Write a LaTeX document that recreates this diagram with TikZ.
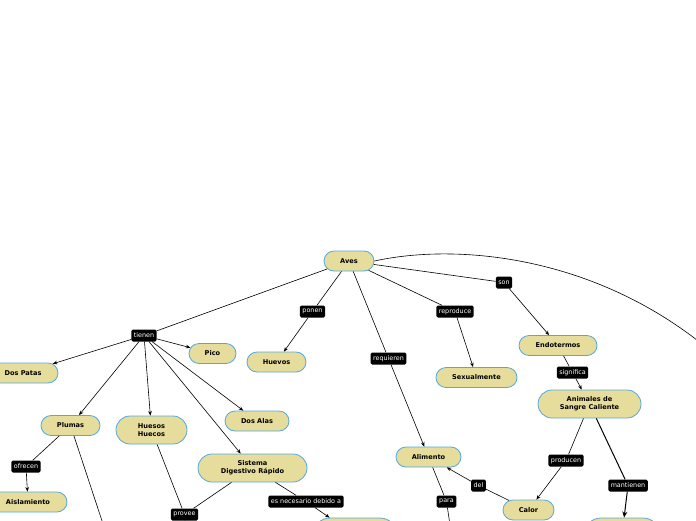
\documentclass[tikz,border=0pt]{standalone}
\usepackage{fontspec}
\setmainfont{DejaVu Sans}
\usetikzlibrary{shapes.misc,arrows.meta}
\definecolor{nodefill}{HTML}{E6DC9C}
\definecolor{nodeline}{HTML}{52A9DE}
\tikzset{
  concept/.style={rounded rectangle, draw=nodeline, line width=0.8pt, fill=nodefill,
    inner sep=1pt, minimum height=20pt, align=center,
    font=\fontsize{6.6}{8}\selectfont\bfseries},
  tall/.style={minimum height=28pt},
  lbl/.style={rectangle, rounded corners=1.5pt, fill=black, text=white, inner sep=0pt,
    minimum height=12pt, inner xsep=2.5pt, font=\fontsize{6.4}{8}\selectfont},
  conn/.style={draw=black, line width=0.6pt},
  arr/.style={conn, -{Stealth[length=4.5pt,width=3.6pt]}},
  thickconn/.style={draw=black, line width=1pt},
  thickarr/.style={thickconn, -{Stealth[length=6pt,width=5pt]}},
}
\begin{document}
\begin{tikzpicture}[x=1pt,y=-1pt]
\useasboundingbox (0,0) rectangle (696,520);
\clip (0,0) rectangle (696,520);
% concept nodes
\node[concept, minimum width=52pt] (aves) at (349,261) {Aves};
\node[concept, minimum width=72pt] (dospatas) at (23,373) {Dos Patas};
\node[concept, minimum width=49pt] (pico) at (212.5,353.5) {Pico};
\node[concept, minimum width=61pt] (huevos) at (276.5,362) {Huevos};
\node[concept, minimum width=83pt] (sexual) at (476.5,377.5) {Sexualmente};
\node[concept, minimum width=80pt] (endo) at (558,345.5) {Endotermos};
\node[concept, tall, minimum width=105pt] (animales) at (589.5,404) {Animales de\\Sangre Caliente};
\node[concept, minimum width=61pt] (plumas) at (70.5,425.5) {Plumas};
\node[concept, tall, minimum width=73pt] (huesos) at (151.5,430) {Huesos\\Huecos};
\node[concept, minimum width=66pt] (dosalas) at (257,421) {Dos Alas};
\node[concept, tall, minimum width=111pt] (sistema) at (252.5,468) {Sistema\\Digestivo Rápido};
\node[concept, minimum width=67pt] (alimento) at (428.5,457) {Alimento};
\node[concept, minimum width=80pt] (aislamiento) at (28,502) {Aislamiento};
\node[concept, minimum width=53pt] (calor) at (528.5,510) {Calor};
\node[concept, minimum width=86pt, minimum height=34pt] (bottomA) at (355,535) {};
\node[concept, minimum width=78pt, minimum height=34pt] (bottomB) at (622,535) {};
% off-canvas ends
\coordinate (offplumas) at (110,545);
\coordinate (offprovee) at (187,545);
\coordinate (offpara) at (453,545);
\coordinate (offcurve) at (760,400);
% labels
\node[lbl] (tienen) at (144,335.5) {tienen};
\node[lbl] (ponen) at (312.5,311.5) {ponen};
\node[lbl] (requieren) at (388.5,358.5) {requieren};
\node[lbl] (reproduce) at (455,311.5) {reproduce};
\node[lbl] (son) at (504,282.5) {son};
\node[lbl] (significa) at (572.5,372.5) {significa};
\node[lbl] (ofrecen) at (26,466.5) {ofrecen};
\node[lbl] (producen) at (566,460.5) {producen};
\node[lbl] (del) at (478.5,485.5) {del};
\node[lbl] (mantienen) at (628,485.5) {mantienen};
\node[lbl] (para) at (446.5,501.5) {para};
\node[lbl] (necesario) at (306,501.5) {es necesario debido a};
\node[lbl] (provee) at (184.5,514.5) {provee};
% connectors
\draw[conn] (aves) -- (tienen);
\draw[arr] (tienen) -- (dospatas);
\draw[arr] (tienen) -- (pico);
\draw[arr] (tienen) -- (plumas);
\draw[arr] (tienen) -- (huesos);
\draw[arr] (tienen) -- (dosalas);
\draw[arr] (tienen) -- (sistema);
\draw[conn] (aves) -- (ponen);
\draw[arr] (ponen) -- (huevos);
\draw[conn] (aves) -- (requieren);
\draw[arr] (requieren) -- (alimento);
\draw[conn] (aves) -- (reproduce);
\draw[arr] (reproduce) -- (sexual);
\draw[conn] (aves) -- (son);
\draw[arr] (son) -- (endo);
\draw[conn] (endo) -- (significa);
\draw[arr] (significa) -- (animales);
\draw[conn] (plumas) -- (ofrecen);
\draw[arr] (ofrecen) -- (aislamiento);
\draw[conn] (plumas) -- (offplumas);
\draw[conn] (huesos) -- (provee);
\draw[conn] (sistema) -- (provee);
\draw[conn] (provee) -- (offprovee);
\draw[conn] (sistema) -- (necesario);
\draw[arr] (necesario) -- (bottomA);
\draw[conn] (alimento) -- (para);
\draw[conn] (para) -- (offpara);
\draw[conn] (calor) -- (del);
\draw[arr] (del) -- (alimento);
\draw[conn] (animales) -- (producen);
\draw[arr] (producen) -- (calor);
\draw[thickconn] (animales) -- (mantienen);
\draw[thickarr] (mantienen) -- (bottomB);
\draw[conn] (aves.east) .. controls (470,240) and (640,260) .. (offcurve);
\end{tikzpicture}
\end{document}
